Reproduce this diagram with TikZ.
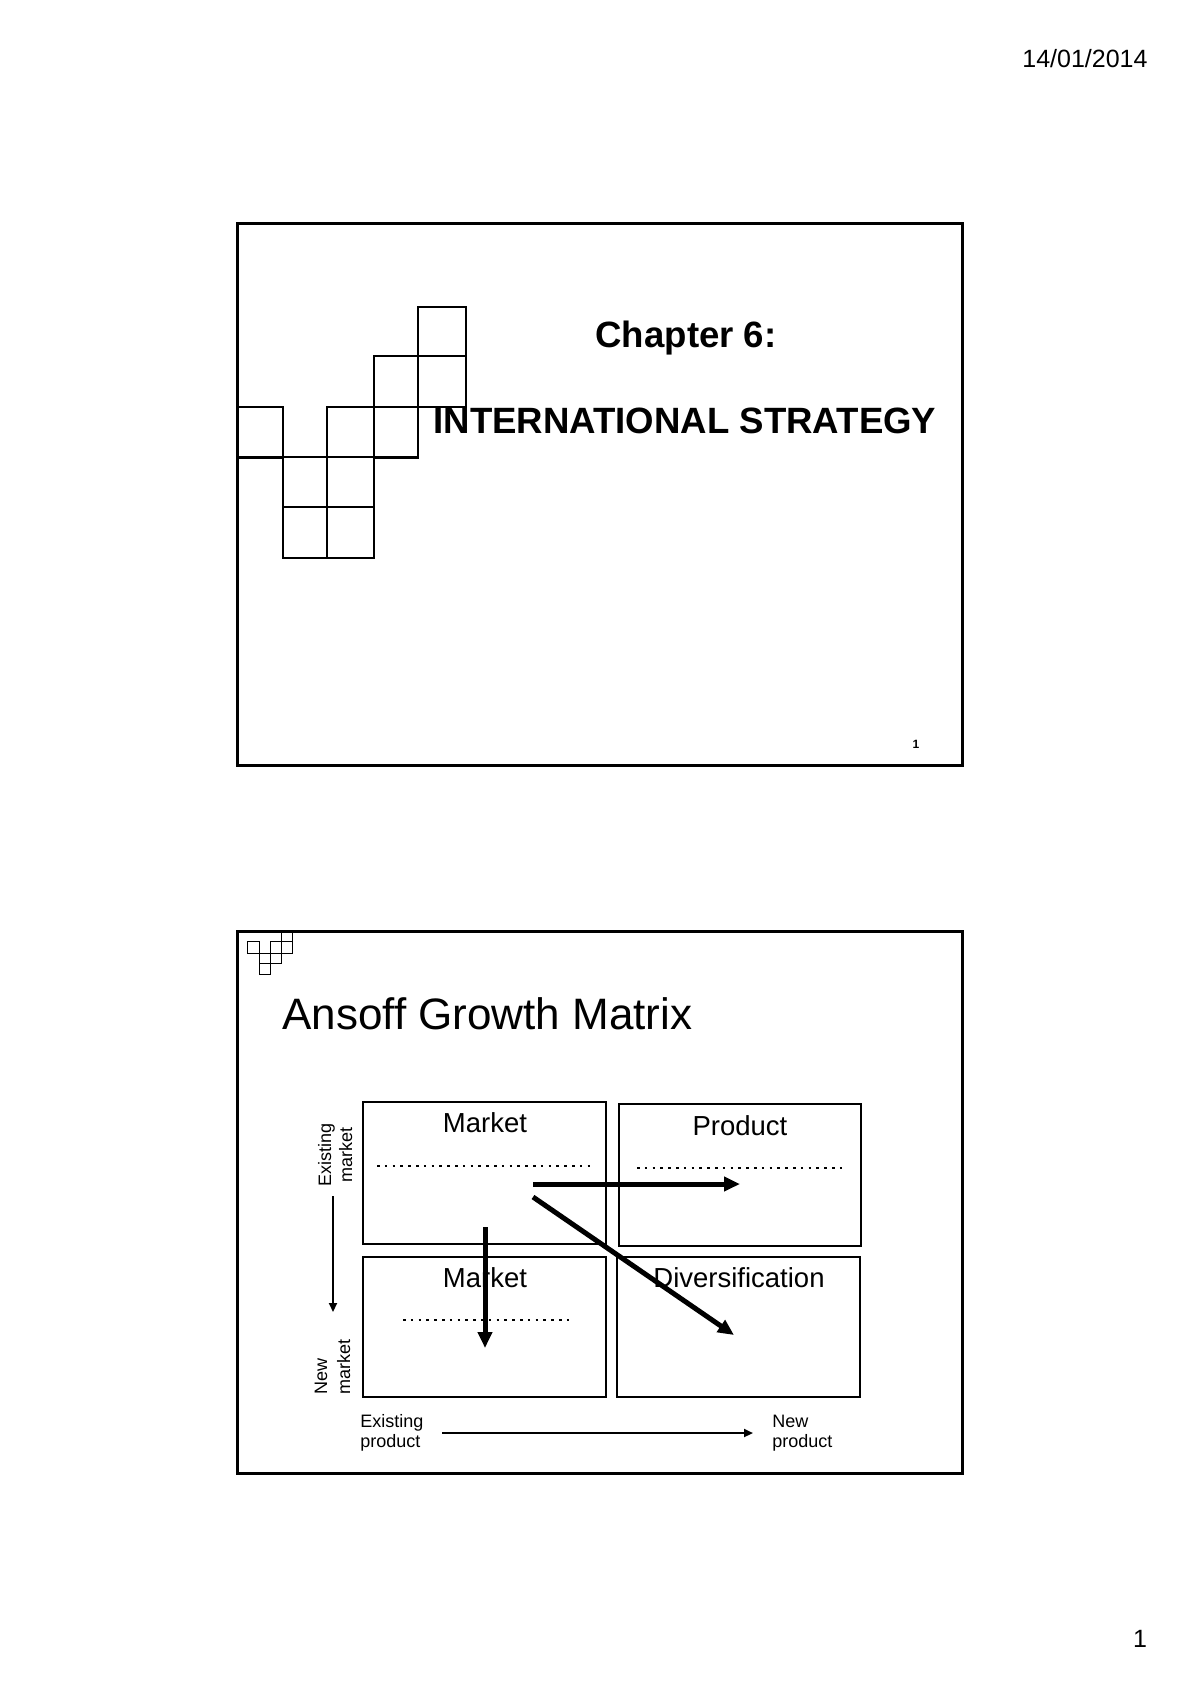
\documentclass[tikz,border=0pt]{standalone}
\usepackage{fontspec}
\setmainfont{Liberation Sans}
\usetikzlibrary{arrows.meta}
\begin{document}
\begin{tikzpicture}[x=0.5pt,y=-0.5pt,
  slide/.style={draw=black,line width=1.5pt},
  cell/.style={draw=black,line width=1pt},
  thickseg/.style={draw=black,line width=1.5pt},
  smallcell/.style={draw=black,line width=0.5pt},
  qbox/.style={draw=black,line width=0.9pt},
  qboxthick/.style={draw=black,line width=1.4pt},
  dots/.style={line width=1.3pt,dash pattern=on 1.3pt off 2.6pt},
  bigarrow/.style={line width=2.5pt,-{Triangle[length=8pt,width=7pt]}},
  thinarrow/.style={line width=1pt,-{Triangle[length=4.5pt,width=4pt]}},
  lbl/.style={inner sep=0pt,anchor=base,font=\fontsize{13.75pt}{16pt}\selectfont},
  axis/.style={inner sep=0pt,font=\fontsize{9pt}{10.5pt}\selectfont},
]
\useasboundingbox (0,0) rectangle (1200,1698);

% page header / footer
\node[inner sep=0pt,anchor=base west,font=\fontsize{12.5pt}{15pt}\selectfont] (date) at (1022,67) {14/01/2014};
\node[inner sep=0pt,anchor=base,font=\fontsize{12.5pt}{15pt}\selectfont] (page) at (1140,1647) {1};

% ---------- slide 1 ----------
\draw[slide] (237,223) rectangle (962,765);
% logo
\draw[cell] (418,307) rectangle (466,356);
\draw[cell] (374,356) rectangle (418,407);
\draw[cell] (418,356) rectangle (466,407);
\draw[cell] (237,407) rectangle (283,457);
\draw[cell] (327,407) rectangle (374,457);
\draw[cell] (374,407) rectangle (418,457);
\draw[cell] (283,457) rectangle (327,507);
\draw[cell] (327,457) rectangle (374,507);
\draw[cell] (283,507) rectangle (327,558);
\draw[cell] (327,507) rectangle (374,558);
\draw[thickseg] (237,457) -- (283,457);
\draw[thickseg] (374,457) -- (419,457);

\node[inner sep=0pt,anchor=base,font=\bfseries\fontsize{18.3pt}{21pt}\selectfont] (chap) at (686,347) {Chapter 6:};
\node[inner sep=0pt,anchor=base west,font=\bfseries\fontsize{18.3pt}{21pt}\selectfont] (intl) at (433,433) {INTERNATIONAL STRATEGY};
\node[inner sep=0pt,anchor=base,font=\bfseries\fontsize{6pt}{7pt}\selectfont] (s1num) at (916,748) {1};

% ---------- slide 2 ----------
\draw[slide] (237,931) rectangle (962,1473);
% small logo
\draw[smallcell] (281,931) rectangle (292,941);
\draw[smallcell] (247,941) rectangle (259,953);
\draw[smallcell] (270,941) rectangle (281,953);
\draw[smallcell] (281,941) rectangle (292,953);
\draw[smallcell] (259,953) rectangle (270,963);
\draw[smallcell] (270,953) rectangle (281,963);
\draw[smallcell] (259,963) rectangle (270,974);

\node[inner sep=0pt,anchor=base west,font=\fontsize{22pt}{26pt}\selectfont] (title) at (282,1029) {Ansoff Growth Matrix};

% matrix boxes
\draw[qbox] (363,1102) rectangle (606,1244);
\draw[qboxthick] (363,1102) -- (606,1102);
\draw[qbox] (619,1104) rectangle (861,1246);
\draw[qboxthick] (861,1104) -- (861,1246);
\draw[qbox] (363,1257) rectangle (606,1397);
\draw[qbox] (617,1257) rectangle (860,1397);

% dotted lines
\draw[dots] (377,1166) -- (594,1166);
\draw[dots] (637,1168) -- (845,1168);
\draw[dots] (403,1320) -- (571,1320);

% box labels
\node[lbl] (mpen) at (485,1132) {Market};
\node[lbl] (pdev) at (740,1135) {Product};
\node[lbl] (mdev) at (485,1287) {Market};
\node[lbl] (div) at (739,1287) {Diversification};

% axis labels
\node[axis,rotate=90,anchor=base] (exm1) at (331,1155) {Existing};
\node[axis,rotate=90,anchor=base] (exm2) at (352,1155) {market};
\node[axis,rotate=90,anchor=base west] (nm1) at (327,1395) {New};
\node[axis,rotate=90,anchor=base west] (nm2) at (350,1395) {market};
\node[axis,anchor=base west] (exp1) at (360,1427) {Existing};
\node[axis,anchor=base west] (exp2) at (360,1447) {product};
\node[axis,anchor=base west] (np1) at (772,1427) {New};
\node[axis,anchor=base west] (np2) at (772,1447) {product};

% axis arrows
\coordinate (vtop) at (333,1196);
\coordinate (vbot) at (333,1312);
\draw[thinarrow] (vtop) -- (vbot);
\coordinate (hleft) at (442,1433);
\coordinate (hright) at (753,1433);
\draw[thinarrow] (hleft) -- (hright);

% strategy arrows
\coordinate (hs) at (533,1184);
\coordinate (he) at (740,1184);
\draw[bigarrow] (hs) -- (he);
\coordinate (ds) at (533,1197);
\coordinate (de) at (734,1335);
\draw[bigarrow] (ds) -- (de);
\coordinate (vs) at (485,1227);
\coordinate (ve) at (485,1348);
\draw[bigarrow] (vs) -- (ve);
\end{tikzpicture}
\end{document}
